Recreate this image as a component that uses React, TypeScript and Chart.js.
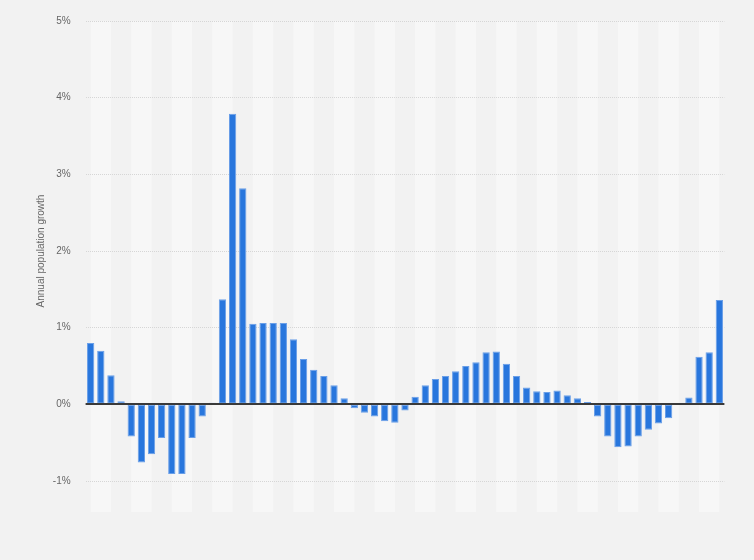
import React, { useEffect, useRef } from "react";
import { Chart, registerables } from "chart.js";

Chart.register(...registerables);

const years: string[] = [
  "1960", "1961", "1962", "1963", "1964", "1965", "1966", "1967", "1968", "1969",
  "1970", "1971", "1972", "1973", "1974", "1975", "1976", "1977", "1978", "1979",
  "1980", "1981", "1982", "1983", "1984", "1985", "1986", "1987", "1988", "1989",
  "1990", "1991", "1992", "1993", "1994", "1995", "1996", "1997", "1998", "1999",
  "2000", "2001", "2002", "2003", "2004", "2005", "2006", "2007", "2008", "2009",
  "2010", "2011", "2012", "2013", "2014", "2015", "2016", "2017", "2018", "2019",
  "2020", "2021", "2022",
];

const growth: number[] = [
  0.8, 0.7, 0.38, 0.04, -0.42, -0.76, -0.65, -0.44, -0.91, -0.91,
  -0.44, -0.16, 0.02, 1.37, 3.79, 2.82, 1.05, 1.06, 1.06, 1.06,
  0.85, 0.59, 0.45, 0.37, 0.25, 0.08, -0.05, -0.11, -0.16, -0.22,
  -0.24, -0.08, 0.1, 0.25, 0.33, 0.37, 0.43, 0.5, 0.55, 0.68,
  0.69, 0.53, 0.37, 0.22, 0.17, 0.16, 0.18, 0.12, 0.08, 0.03,
  -0.16, -0.42, -0.56, -0.55, -0.42, -0.33, -0.25, -0.18, -0.01, 0.09,
  0.62, 0.68, 1.36,
];

const yTicks: number[] = [-1, 0, 1, 2, 3, 4, 5];

const axisTitle = "Annual population growth";

export default function App() {
  const canvasRef = useRef<HTMLCanvasElement | null>(null);

  useEffect(() => {
    document.body.style.margin = "0";
    const canvas = canvasRef.current;
    if (!canvas) return;

    const backgroundPlugin = {
      id: "bgStripes",
      beforeDraw(chart: any) {
        const { ctx, chartArea, scales } = chart;
        const x = scales.x;
        ctx.save();
        ctx.fillStyle = "#f2f2f2";
        ctx.fillRect(0, 0, chart.width, chart.height);
        ctx.fillStyle = "#f7f7f7";
        const top = chartArea.top;
        const bottom = chartArea.bottom + 31;
        for (let i = 0; i + 2 < years.length; i += 4) {
          const x0 = x.getPixelForValue(i);
          const x1 = x.getPixelForValue(i + 2);
          ctx.fillRect(x0, top, x1 - x0, bottom - top);
        }
        ctx.restore();
      },
    };

    const zeroLinePlugin = {
      id: "zeroLine",
      afterDatasetsDraw(chart: any) {
        const { ctx, chartArea, scales } = chart;
        const y = Math.round(scales.y.getPixelForValue(0));
        ctx.save();
        ctx.strokeStyle = "#3a3a3a";
        ctx.lineWidth = 2;
        ctx.beginPath();
        ctx.moveTo(chartArea.left, y);
        ctx.lineTo(chartArea.right, y);
        ctx.stroke();
        ctx.restore();
      },
    };

    const chart = new Chart(canvas, {
      type: "bar",
      data: {
        labels: years,
        datasets: [
          {
            label: axisTitle,
            data: growth,
            backgroundColor: "#2876dd",
            borderColor: "#6a9fe8",
            borderWidth: 1,
            borderSkipped: false,
            barPercentage: 0.72,
            categoryPercentage: 1,
          },
        ],
      },
      options: {
        animation: false,
        responsive: true,
        maintainAspectRatio: false,
        layout: {
          padding: { left: 0, top: 20, right: 29.6, bottom: 79 },
        },
        plugins: {
          legend: { display: false },
          tooltip: { enabled: false },
        },
        scales: {
          x: {
            display: false,
            offset: true,
            grid: { display: false },
          },
          y: {
            min: -1,
            max: 5,
            afterFit(scale: any) {
              scale.width = 85.6;
            },
            afterBuildTicks(scale: any) {
              scale.ticks = yTicks.map((v) => ({ value: v }));
            },
            ticks: {
              color: "#666666",
              padding: 15,
              font: { family: "'Liberation Sans', Arial, sans-serif", size: 10 },
              callback: (v: any) => `${v}%`,
            },
            grid: {
              drawTicks: false,
              color: (c: any) =>
                c.tick && c.tick.value === 0 ? "rgba(0,0,0,0)" : "#d6d6d6",
              lineWidth: 1,
            },
            border: { display: false, dash: [1, 1] },
            title: {
              display: true,
              text: axisTitle,
              color: "#666666",
              font: { family: "'Liberation Sans', Arial, sans-serif", size: 10 },
              padding: { top: 35, bottom: 0 },
            },
          },
        },
      },
      plugins: [backgroundPlugin, zeroLinePlugin],
    });

    return () => {
      chart.destroy();
    };
  }, []);

  return (
    <div style={{ width: 754, height: 560, position: "relative" }}>
      <canvas ref={canvasRef} />
    </div>
  );
}
